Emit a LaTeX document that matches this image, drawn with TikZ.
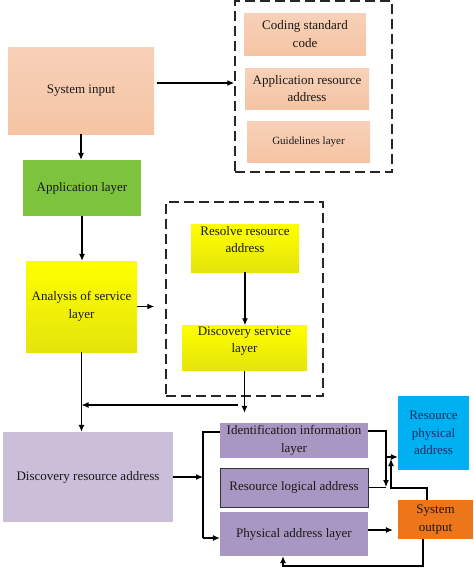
\documentclass[tikz,border=0pt]{standalone}
\usepackage{fontspec}
\setmainfont{Liberation Serif}
\usetikzlibrary{calc}
\usetikzlibrary{positioning}
\usetikzlibrary{arrows.meta}

\definecolor{peach}{RGB}{245,196,164}
\definecolor{peachtop}{RGB}{248,209,184}
\definecolor{leaf}{RGB}{126,195,62}
\definecolor{lemon}{RGB}{255,255,0}
\definecolor{olive}{RGB}{228,228,12}
\definecolor{lilac}{RGB}{202,190,216}
\definecolor{plum}{RGB}{168,151,194}
\definecolor{sky}{RGB}{0,176,240}
\definecolor{amber}{RGB}{237,118,26}
\definecolor{ink}{RGB}{25,25,25}
\definecolor{navy}{RGB}{25,45,100}

\begin{document}
\begin{tikzpicture}[x=1pt, y=-1pt,
  box/.style={inner sep=1pt, align=center, text=ink, font=\fontsize{13}{17.5}\selectfont},
  peachbox/.style={box, top color=peachtop, bottom color=peach},
  yellowbox/.style={box, top color=lemon, bottom color=olive},
  plumbox/.style={box, fill=plum, minimum width=148pt},
  groupbox/.style={draw=black!85, line width=1.5pt, dash pattern=on 10pt off 5pt},
  arr/.style={draw=black, line width=1.1pt, -{Latex[length=7pt,width=6pt]}},
  line/.style={draw=black, line width=1.1pt}]
  \useasboundingbox (0,0) rectangle (474,579);

  % input side
  \node [peachbox, minimum width=146pt, minimum height=87pt] (sysin) at (81,90.5) {System input};
  \node [groupbox, minimum width=157pt, minimum height=171pt] (groupA) at (313.5,86.5) {};
  \node [peachbox, minimum width=122pt, minimum height=42pt] (code) at (305,34) {Coding standard\\code};
  \node [peachbox, minimum width=124pt, minimum height=41pt] (appaddr) at (307,88.5) {Application resource\\address};
  \node [peachbox, minimum width=123pt, minimum height=41pt, font=\fontsize{11}{14}\selectfont] (guide) at (308.5,141.5) {Guidelines layer};

  \coordinate (inR) at ($(sysin.east)+(3,-7.5)$);
  \draw [arr] (inR) -- (inR -| groupA.west);

  % service layers
  \node [box, fill=leaf, minimum width=118pt, minimum height=56pt] (applayer) at (82,188) {Application layer};
  \node [yellowbox, minimum width=111pt, minimum height=91pt] (analysis) at (81.5,306.5) {Analysis of service\\layer};
  \node [groupbox, minimum width=157pt, minimum height=194pt] (groupB) at (244.5,299) {};
  \node [yellowbox, minimum width=108pt, minimum height=48pt, text depth=17pt] (resolve) at (245,248) {Resolve resource\\address};
  \node [yellowbox, minimum width=125pt, minimum height=42pt, text depth=17pt] (discsvc) at (244.5,348) {Discovery service\\layer};

  \draw [arr] (sysin.south) -- (sysin.south |- applayer.north);
  \draw [arr] (applayer.south) -- (applayer.south |- analysis.north);
  \coordinate (anaEnd) at ($(analysis.east -| groupB.west)+(-11,0)$);
  \draw [arr] (analysis.east) -- (anaEnd);
  \draw [arr] (resolve.south) -- (resolve.south |- discsvc.north);

  % address layers
  \node [box, fill=lilac, minimum width=170pt, minimum height=90pt] (discres) at (88,477) {Discovery resource address};
  \node [plumbox, minimum height=35pt] (ident) at (294,440.5) {Identification information\\layer};
  \node [plumbox, draw=black!80, line width=1pt, minimum height=39pt] (logical) at (294,487.5) {Resource logical address};
  \node [plumbox, minimum height=44pt] (physlayer) at (294,534) {Physical address layer};
  \node [box, fill=sky, text=navy, minimum width=71pt, minimum height=74pt] (resphys) at (433.5,433) {Resource\\physical\\address};
  \node [box, fill=amber, minimum width=75pt, minimum height=39pt] (sysout) at (435.5,519.5) {System\\output};

  \coordinate (svcEnd) at ($(discsvc.south |- ident.north)+(0,-10)$);
  \draw [arr] (discsvc.south) -- (svcEnd);
  \coordinate (backR) at (238,405);
  \draw [arr] (backR) -- (backR -| analysis.south);
  \draw [arr] (analysis.south) -- (analysis.south |- discres.north);

  \coordinate (busTop) at (203,432);
  \coordinate (busBot) at (203,538);
  \draw [line] (busTop -| ident.west) -- (busTop) -- (busBot);
  \draw [arr] (busBot) -- (busBot -| physlayer.west);
  \draw [arr] (discres.east) -- (discres.east -| busTop);

  \coordinate (physR) at ($(physlayer.east)+(0,-4)$);
  \draw [arr] (physR) -- ($(physR -| sysout.west)+(-5,0)$);
  \coordinate (outB) at ($(sysout.south)+(-12.5,0)$);
  \coordinate (fbX) at (283,566);
  \draw [arr] (outB) |- (fbX) -- (fbX |- physlayer.south);

  \coordinate (identR) at ($(ident.east)+(0,-9.5)$);
  \coordinate (jn) at (386,487);
  \draw [arr] (identR) -| (jn);
  \draw [line] (logical.east) -- (logical.east -| jn);
  \coordinate (outT) at ($(sysout.north)+(-8.5,0)$);
  \coordinate (turn) at (391,488);
  \coordinate (upTip) at (391,459);
  \draw [arr] (outT) |- (turn) -- (upTip);
  \coordinate (sideL) at (387,457);
  \draw [arr] (sideL) -- (sideL -| resphys.west);
\end{tikzpicture}
\end{document}
